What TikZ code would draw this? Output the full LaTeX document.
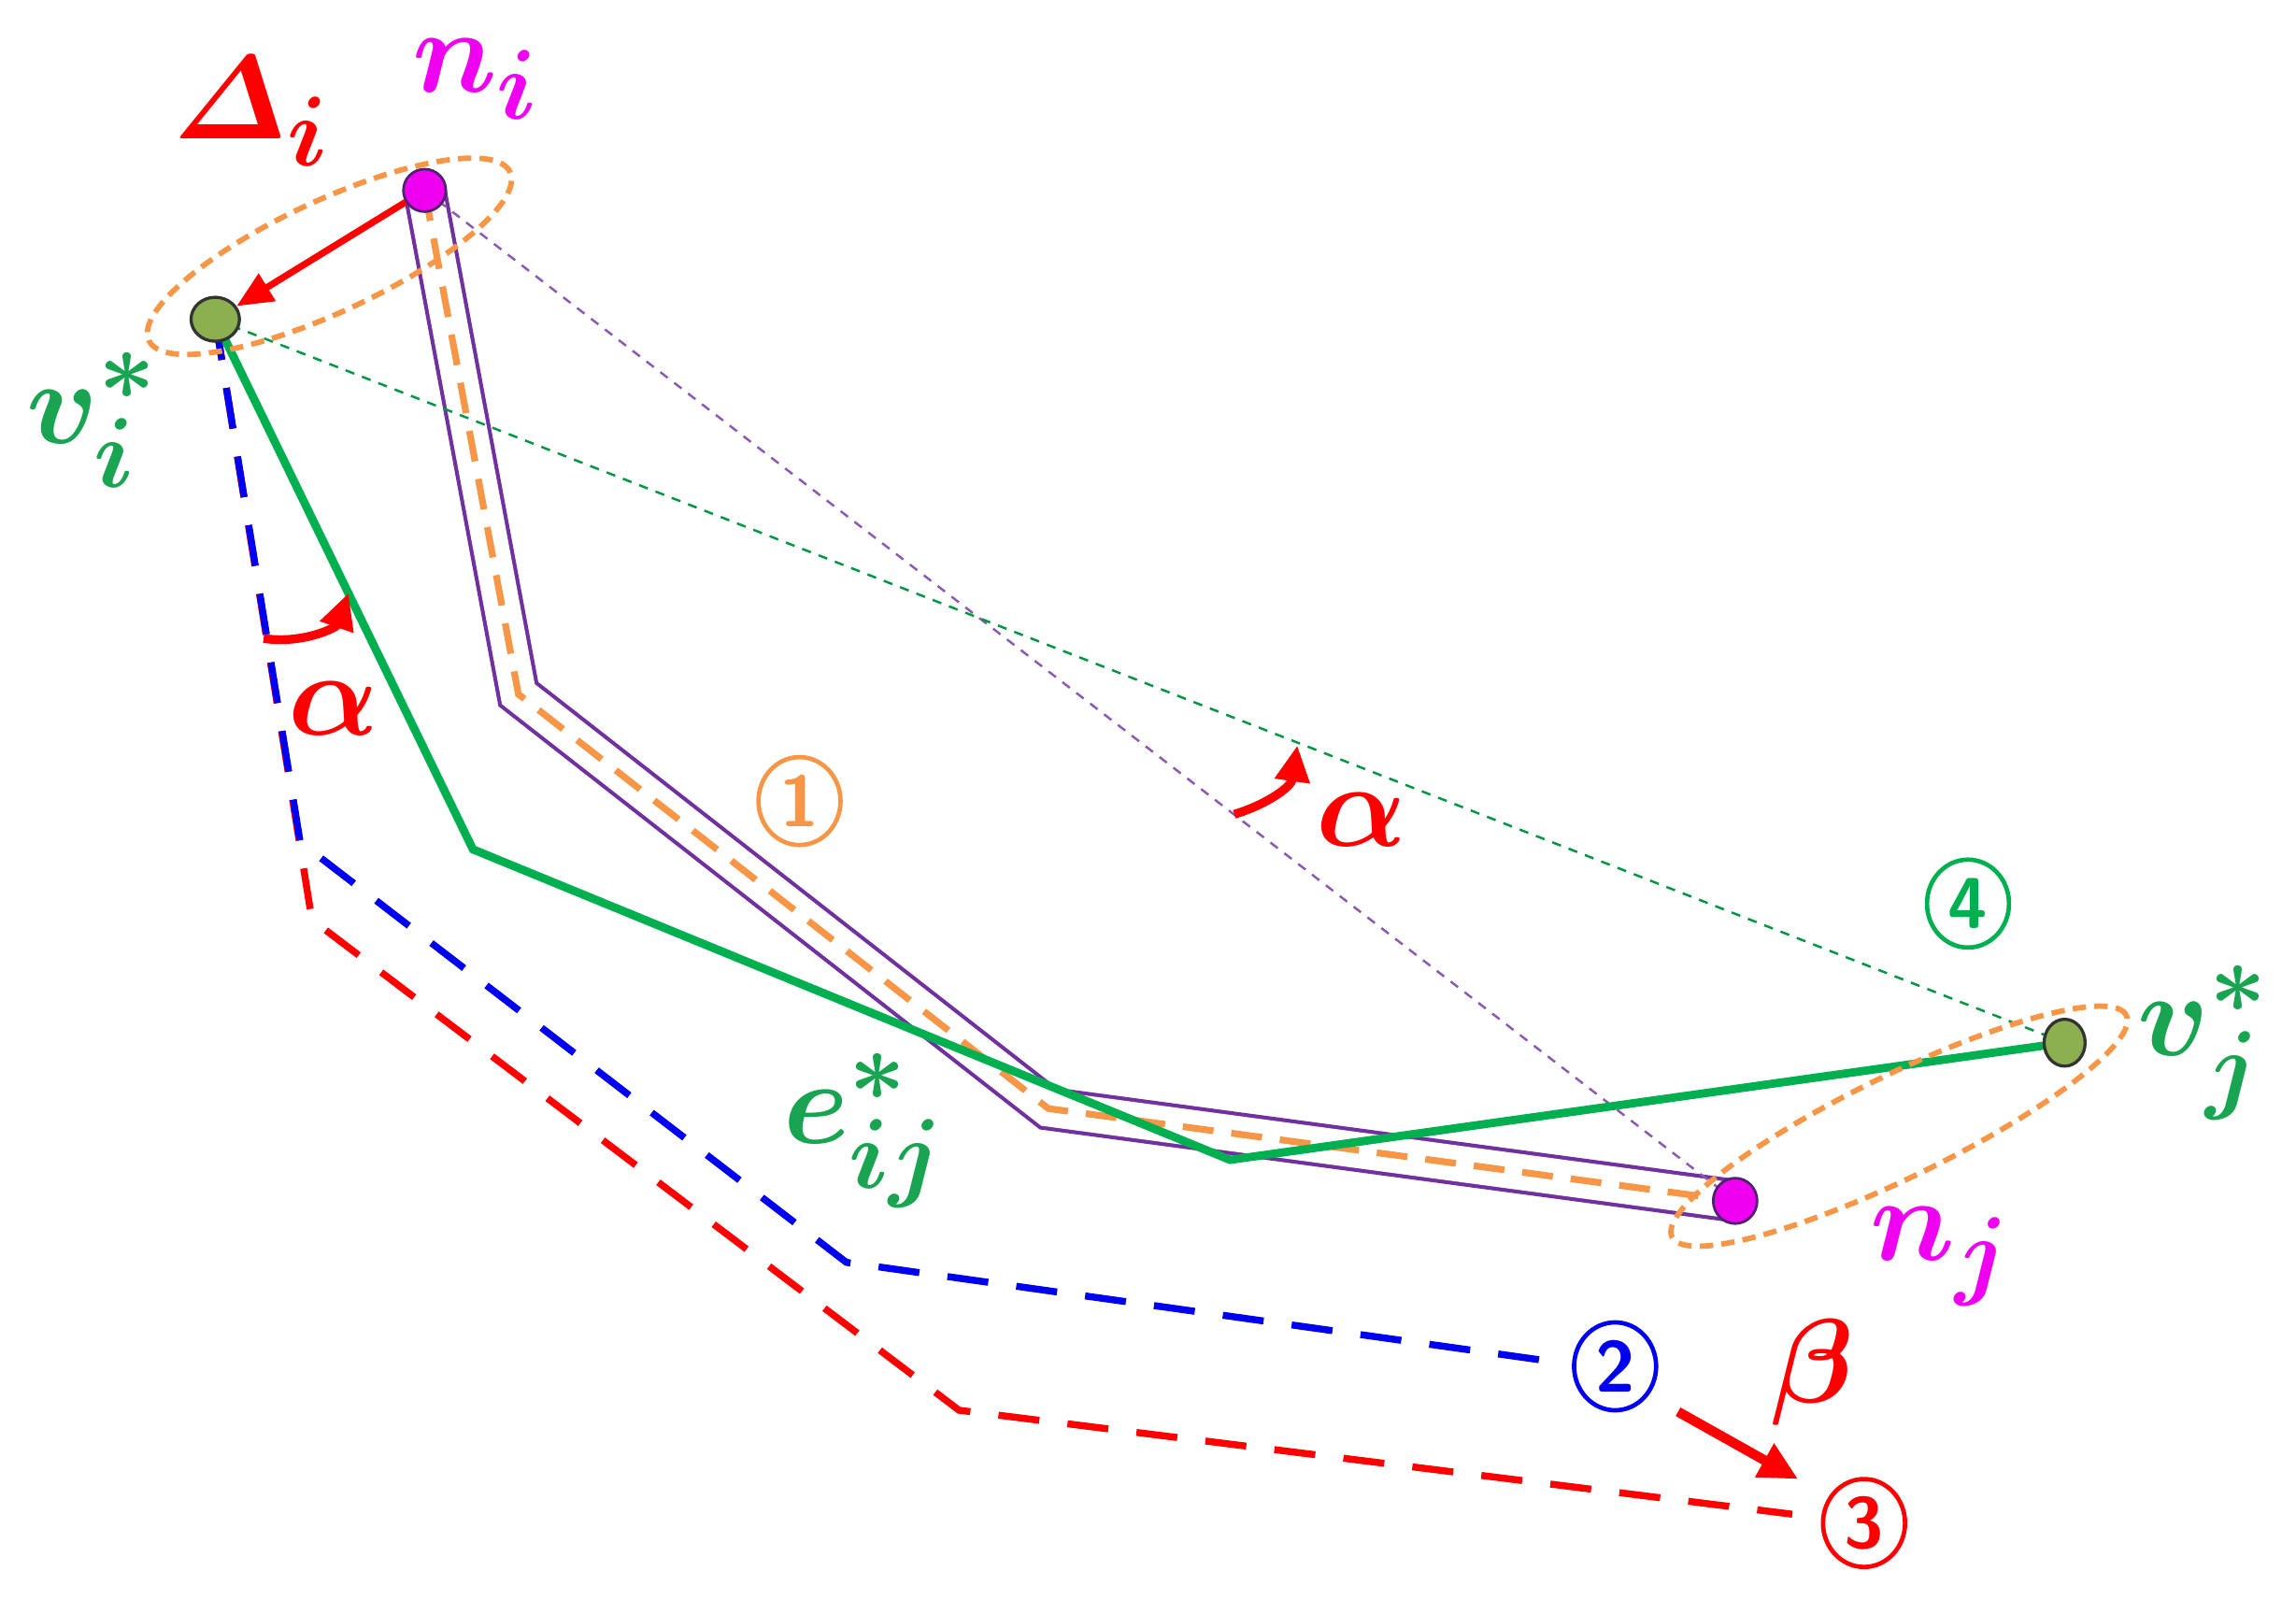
\documentclass[tikz,border=0pt]{standalone}
\usepackage{amsmath}
\usetikzlibrary{arrows.meta,shapes.geometric}
\definecolor{cgreen}{RGB}{0,176,80}
\definecolor{tgreen}{RGB}{24,164,80}
\definecolor{corange}{RGB}{247,150,70}
\definecolor{cpurple}{RGB}{112,48,160}
\definecolor{cblue}{RGB}{0,0,240}
\definecolor{cred}{RGB}{255,0,0}
\definecolor{cmag}{RGB}{240,0,240}
\definecolor{colive}{RGB}{140,176,80}
\begin{document}
\begin{tikzpicture}[x=0.01cm,y=-0.01cm,
  lbl/.style={font=\fontsize{24.88}{30}\selectfont\boldmath, inner sep=0pt, scale=0.93},
  numc/.style={ellipse, draw, line width=0.85pt, minimum width=0.56cm, minimum height=0.6cm, inner sep=0pt, font=\sffamily\bfseries\fontsize{14}{17}\selectfont},
  dotn/.style={ellipse, draw=cpurple!70!black, fill=cmag, line width=0.5pt, inner sep=0pt},
  dotv/.style={ellipse, draw=black!80, fill=colive, line width=0.6pt, inner sep=0pt},
  tube/.style={cpurple, line width=0.75pt, double=white, double distance=0.245cm, line join=miter},
  odash/.style={corange, line width=1.3pt, dash pattern=on 6pt off 3.5pt},
  pathdash/.style={line width=1.35pt, dash pattern=on 8pt off 5.5pt},
  elldash/.style={ellipse, draw=corange, line width=1.05pt, dash pattern=on 2.6pt off 1.6pt, inner sep=0pt},
  thindash/.style={line width=0.45pt, dash pattern=on 1.8pt off 1.6pt},
  redarrow/.style={cred, line width=1.7pt, -{Triangle[length=7pt,width=6.5pt]}},
]
\useasboundingbox (0,0) rectangle (1568,1102);

% coordinates
\coordinate (A) at (354,474);
\coordinate (B) at (716,757);
\coordinate (g1) at (323,580);
\coordinate (g2) at (840,792);
\coordinate (b1) at (205,575);
\coordinate (b2) at (578,862);
\coordinate (b3) at (1062,930);
\coordinate (r1) at (213,628);
\coordinate (r2) at (655,963);
\coordinate (r3) at (1224,1034);
\coordinate (vic) at (147,218);
\coordinate (nic) at (290,130);
\coordinate (njc) at (1185,820);
\coordinate (vjc) at (1410,712);

% tube
\draw[tube] (nic) -- (A) -- (B) -- (njc);
\draw[odash] (nic) -- (A) -- (B) -- (njc);

% thin dashed lines
\draw[thindash, cpurple!80] (nic) -- (njc);
\draw[thindash, cgreen!85!black] (vic) -- (vjc);

% red and blue dashed paths
\draw[pathdash, cred] (vic) -- (r1) -- (r2) -- (r3);
\draw[pathdash, cblue] (vic) -- (b1) -- (b2) -- (b3);

% green path
\draw[cgreen, line width=1.6pt, line join=miter] (vic) -- (g1) -- (g2) -- (vjc);

% ellipses
\node[elldash, minimum width=2.72cm, minimum height=0.76cm, rotate=25] (E1) at (225,175) {};
\node[elldash, minimum width=3.45cm, minimum height=0.7cm, rotate=26] (E2) at (1297,769) {};

% dots
\node[dotn, minimum width=0.29cm, minimum height=0.29cm] (ni) at (nic) {};
\node[dotv, minimum width=0.33cm, minimum height=0.30cm] (vi) at (vic) {};
\node[dotn, minimum width=0.30cm, minimum height=0.31cm] (nj) at (njc) {};
\node[dotv, minimum width=0.28cm, minimum height=0.32cm] (vj) at (vjc) {};

% Delta arrow
\draw[redarrow, line width=1.3pt, -{Triangle[length=7pt,width=6pt]}] (ni) -- (vi);

% alpha arrows
\coordinate (a1s) at (180,436);
\coordinate (a1e) at (238,405);
\draw[redarrow] (a1s) .. controls (208,440) and (230,428) .. (a1e);
\coordinate (a2s) at (843,556);
\coordinate (a2e) at (886,509);
\draw[redarrow] (a2s) .. controls (866,549) and (882,537) .. (a2e);

% circled numbers
\node[numc, text=corange, draw=corange] (c1) at (546,547) {1};
\node[numc, text=cblue, draw=cblue] (c2) at (1103,933) {2};
\node[numc, text=cred, draw=cred] (c3) at (1273,1040) {3};
\node[numc, text=cgreen, draw=cgreen] (c4) at (1344,617) {4};

% beta arrow
\coordinate (bs) at (1146,964);
\coordinate (be) at (1228,1010);
\draw[redarrow, line width=1.9pt, -{Triangle[length=7.5pt,width=7pt]}] (bs) -- (be);

% labels
\node[lbl, text=cred] (Dl) at (172,76) {$\varDelta_i$};
\node[lbl, text=cmag] (nil) at (325,54) {$n_i$};
\node[lbl, text=tgreen] (vil) at (63,287) {$v_i^*$};
\node[lbl, text=cred] (al1) at (228,484) {$\alpha$};
\node[lbl, text=cred] (al2) at (930,560) {$\alpha$};
\node[lbl, text=tgreen] (vjl) at (1505,712) {$v_j^*$};
\node[lbl, text=tgreen] (el) at (590,772) {$e_{ij}^*$};
\node[lbl, text=cmag] (njl) at (1325,858) {$n_j$};
\node[lbl, text=cred] (bl) at (1238,937) {$\beta$};
\end{tikzpicture}
\end{document}
